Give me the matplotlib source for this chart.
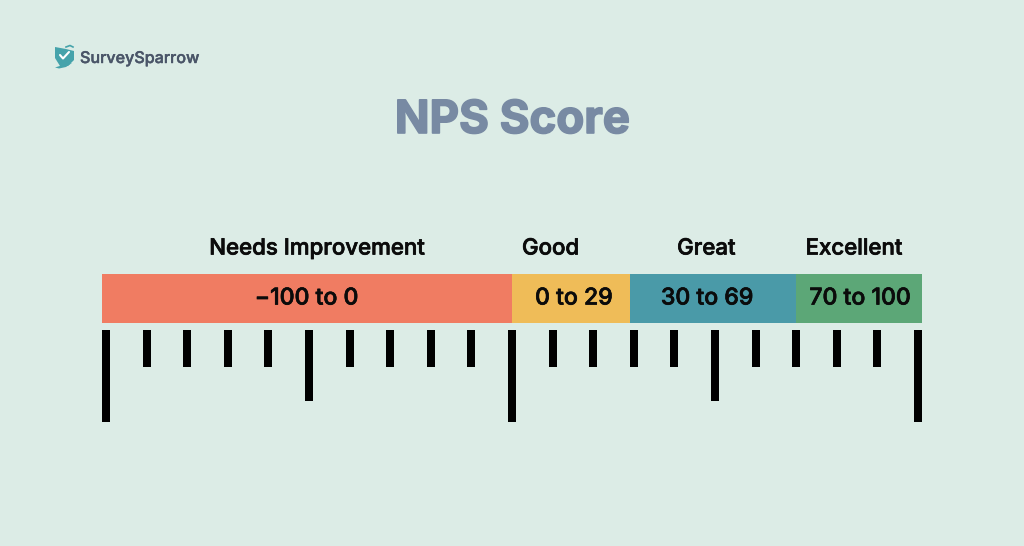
import matplotlib
matplotlib.use("Agg")
import matplotlib.pyplot as plt
from matplotlib.patches import Polygon
import matplotlib.patheffects as pe

# --- data ---
segment_names = ["Needs Improvement", "Good", "Great", "Excellent"]
segment_ranges = ["\u2212100 to 0", "0 to 29", "30 to 69", "70 to 100"]
segment_edges = [-100, 0, 28.8, 69.3, 100]
segment_colors = ["#F07C62", "#EFBC58", "#4A9AA8", "#5CA777"]
tick_values = list(range(-100, 101, 10))
tick_lengths = [92 if v % 100 == 0 else 71 if v % 50 == 0 else 37 for v in tick_values]

BG = "#DCECE6"
FONT = "Inter"

fig = plt.figure(figsize=(10.24, 5.46), dpi=100, facecolor=BG)
ax = fig.add_axes([0, 0, 1, 1])
ax.set_facecolor(BG)
PX = 4.1
ax.set_xlim(-512 / PX, 512 / PX)
ax.set_ylim(546, 0)
ax.axis("off")

# scale bar
lefts = segment_edges[:-1]
widths = [b - a for a, b in zip(segment_edges[:-1], segment_edges[1:])]
ax.bar(lefts, [49.5] * 4, width=widths, bottom=273.5, align="edge", color=segment_colors, linewidth=0)

# ticks (inset so the outer ticks sit inside the bar ends)
ax.bar([v * 0.99 for v in tick_values], tick_lengths, width=8 / PX, bottom=330, color="black", linewidth=0)

# texts
heavier = [pe.withStroke(linewidth=0.5, foreground="#0B0B0B")]
name_x = [-47.6, 9.4, 47.4, 83.4]
range_x = [-50.1, 15.1, 47.6, 84.9]
for nx, rx, n, r in zip(name_x, range_x, segment_names, segment_ranges):
    ax.text(nx, 248.5, n, ha="center", va="center", fontsize=16, fontweight="medium", family=FONT,
            color="#0B0B0B", path_effects=heavier)
    ax.text(rx, 298.5, r, ha="center", va="center", fontsize=16.6, fontweight="medium", family=FONT,
            color="#0B0B0B", path_effects=heavier)

ax.text(0.05, 121, "NPS Score", ha="center", va="center", fontsize=32.8, fontweight="bold", family=FONT,
        color="#788AA3", path_effects=[pe.withStroke(linewidth=1.2, foreground="#788AA3")])

# logo
TEAL = "#46A3AB"
def lx(p):
    return (p - 512) / PX
ax.add_patch(Polygon([(lx(55), 47), (lx(66), 49), (lx(74), 51), (lx(74), 60), (lx(68), 66), (lx(60), 66), (lx(55), 58)],
                     closed=True, color=TEAL, lw=0))
ax.add_patch(Polygon([(lx(55), 67.5), (lx(66), 64), (lx(72), 63), (lx(66), 67), (lx(59), 68.5)], closed=True, color=TEAL, lw=0))
ax.plot([lx(60), lx(63), lx(69)], [55, 58.5, 52], color="white", lw=1.5, solid_capstyle="round")
ax.plot([lx(66), lx(70), lx(73)], [47, 45.5, 47], color=TEAL, lw=1.2)
ax.text(lx(80), 58.5, "SurveySparrow", ha="left", va="center", fontsize=11.6, fontweight="medium", family=FONT,
        color="#4A5568", path_effects=[pe.withStroke(linewidth=0.3, foreground="#4A5568")])

fig.savefig("out.png", dpi=100, facecolor=BG)
